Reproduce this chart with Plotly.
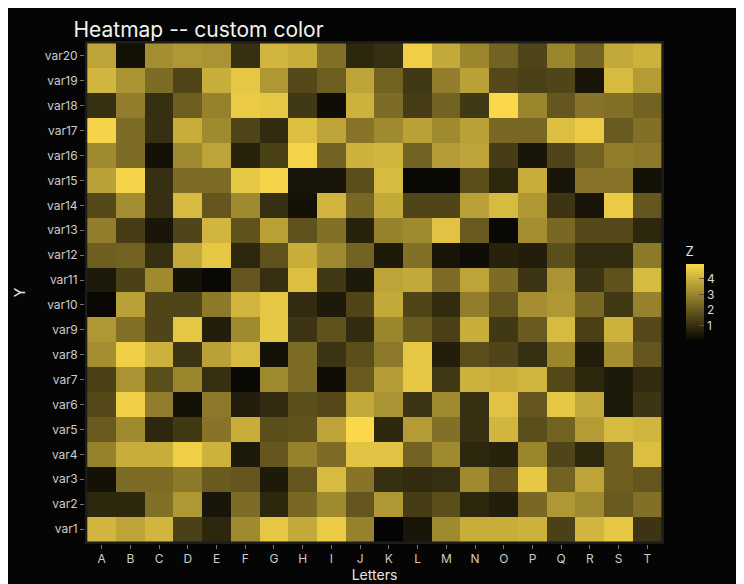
import plotly.graph_objects as go

letters = list("ABCDEFGHIJKLMNOPQRST")
variables = [f"var{i}" for i in range(1, 21)]

# rows listed from var1 (bottom) up to var20 (top)
var1 = [4.1, 3.7, 4.1, 1.4, 0.8, 3.1, 4.5, 3.8, 4.6, 2.9, 0.0, 0.4, 3.1, 3.9, 3.9, 4.0, 1.4, 4.1, 4.5, 1.1]
var2 = [0.8, 0.8, 2.5, 3.4, 0.4, 2.4, 0.8, 2.3, 3.1, 1.9, 3.4, 1.3, 1.7, 0.8, 0.6, 2.3, 3.4, 3.1, 2.0, 2.5]
var3 = [0.3, 2.4, 2.4, 2.7, 2.0, 1.9, 0.5, 1.9, 4.2, 2.6, 1.0, 0.9, 1.0, 3.1, 1.9, 4.5, 2.2, 3.7, 2.1, 1.9]
var4 = [2.9, 3.9, 3.9, 4.7, 4.0, 0.5, 1.9, 2.9, 2.4, 4.4, 4.4, 2.2, 3.1, 0.8, 0.7, 3.0, 1.5, 0.8, 2.1, 4.3]
var5 = [2.0, 3.1, 0.8, 1.2, 2.6, 3.9, 1.7, 1.8, 3.7, 4.9, 0.8, 3.5, 2.5, 1.0, 4.1, 1.7, 2.2, 3.5, 4.2, 4.1]
var6 = [1.6, 4.7, 2.8, 0.3, 2.7, 0.6, 0.9, 1.7, 1.6, 3.8, 3.3, 1.1, 3.1, 1.0, 4.4, 1.9, 4.5, 3.8, 0.5, 1.1]
var7 = [1.4, 3.3, 1.7, 3.0, 1.0, 0.1, 3.1, 2.4, 0.2, 2.0, 3.5, 4.5, 1.2, 4.0, 3.9, 4.1, 1.6, 0.8, 0.5, 0.9]
var8 = [3.2, 4.7, 4.0, 1.1, 3.6, 4.2, 0.3, 2.4, 1.1, 1.7, 2.7, 4.5, 0.6, 1.7, 1.5, 1.0, 3.0, 0.6, 3.2, 1.9]
var9 = [3.4, 2.5, 1.5, 4.5, 0.6, 3.1, 4.5, 1.1, 1.8, 0.9, 3.0, 2.0, 1.4, 3.9, 1.2, 2.0, 4.2, 1.4, 4.0, 1.6]
var10 = [0.1, 3.6, 1.5, 1.5, 2.7, 4.1, 4.5, 0.9, 0.5, 1.5, 3.8, 1.5, 0.9, 2.8, 1.9, 3.2, 3.4, 2.3, 1.2, 2.9]
var11 = [0.5, 1.4, 3.1, 0.3, 0.1, 1.9, 1.0, 4.3, 1.2, 0.5, 3.7, 3.8, 2.4, 3.7, 2.4, 1.1, 3.3, 1.1, 1.8, 4.2]
var12 = [2.1, 2.2, 1.0, 3.8, 4.5, 0.8, 1.8, 3.9, 3.1, 2.2, 0.5, 2.5, 0.4, 0.2, 0.7, 0.6, 1.7, 0.9, 0.9, 2.7]
var13 = [2.8, 1.3, 0.4, 1.5, 4.1, 1.8, 3.6, 1.8, 2.5, 0.7, 2.9, 3.1, 4.4, 2.0, 0.1, 3.2, 2.3, 1.6, 1.6, 0.8]
var14 = [1.6, 3.2, 1.0, 4.2, 1.9, 3.1, 1.0, 0.3, 4.1, 2.3, 3.8, 1.5, 1.5, 3.6, 4.2, 3.4, 1.1, 0.4, 4.6, 1.9]
var15 = [3.6, 4.8, 1.0, 2.4, 2.4, 4.5, 4.8, 0.4, 0.4, 1.7, 4.2, 0.1, 0.1, 1.7, 0.8, 3.9, 0.4, 2.6, 2.6, 0.3]
var16 = [3.1, 2.4, 0.3, 3.1, 3.7, 0.7, 1.4, 4.8, 2.2, 4.0, 4.1, 2.2, 3.5, 3.7, 1.3, 0.4, 1.5, 2.2, 2.8, 2.7]
var17 = [4.8, 2.4, 1.0, 3.9, 3.1, 1.5, 0.9, 4.3, 3.7, 2.6, 3.1, 3.6, 3.1, 3.6, 2.3, 2.3, 4.3, 4.6, 2.0, 2.5]
var18 = [1.0, 2.8, 1.0, 2.1, 2.9, 4.6, 4.5, 1.2, 0.2, 4.0, 2.4, 1.3, 2.2, 1.2, 4.9, 3.0, 1.9, 2.6, 2.5, 2.2]
var19 = [4.1, 3.3, 2.4, 1.5, 3.9, 4.5, 3.4, 1.6, 2.1, 3.7, 2.2, 1.2, 2.8, 3.6, 1.6, 1.4, 1.5, 0.4, 4.2, 3.5]
var20 = [3.7, 0.3, 3.2, 3.4, 3.3, 1.0, 4.1, 3.9, 2.5, 0.8, 1.0, 4.7, 3.8, 3.0, 2.2, 1.5, 3.0, 2.2, 3.8, 4.0]

z = [var1, var2, var3, var4, var5, var6, var7, var8, var9, var10,
     var11, var12, var13, var14, var15, var16, var17, var18, var19, var20]

fig = go.Figure(go.Heatmap(
    x=letters, y=variables, z=z,
    colorscale=[[0, "#050402"], [1, "#fad84a"]],
    colorbar=dict(title=dict(text="Z", font=dict(color="#e6e6e6", size=13)),
                  tickvals=[1, 2, 3, 4], lenmode="pixels", len=118, thickness=18,
                  x=1.02, y=0.5, outlinewidth=0, ticks="inside", tickcolor="#555",
                  tickfont=dict(color="#d8d8d8", size=12)),
))

fig.update_layout(
    title=dict(text="Heatmap -- custom color", x=0.088, y=0.975, font=dict(size=21, color="#f2f2f2")),
    width=744, height=584,
    margin=dict(l=66, r=88, t=33, b=44),
    paper_bgcolor="#050505",
    plot_bgcolor="#1c1c1c",
    font=dict(family="Inter, Lato, sans-serif", color="#cccccc", size=12),
    xaxis=dict(title=dict(text="Letters", font=dict(size=14, color="#e6e6e6"), standoff=4),
               range=[-0.58, 19.58],
               ticks="outside", tickcolor="#777", ticklen=4, showgrid=False, zeroline=False),
    yaxis=dict(title=dict(text="Y", font=dict(size=14, color="#e6e6e6")),
               range=[-0.6, 19.6],
               ticks="outside", tickcolor="#777", ticklen=4, showgrid=False, zeroline=False),
)

fig.write_html("out.html")
